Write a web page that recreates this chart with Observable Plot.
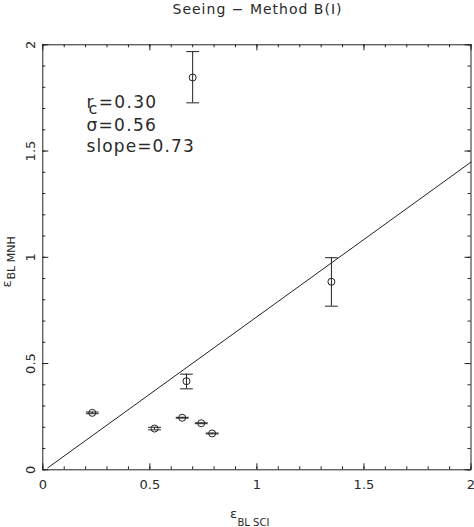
<!DOCTYPE html>
<html><head><meta charset="utf-8">
<script src="https://cdn.jsdelivr.net/npm/d3@7"></script>
<script src="https://cdn.jsdelivr.net/npm/@observablehq/plot@0.6"></script>
<style>body{margin:0;background:#fff}</style>
</head><body><div id="chart"></div>
<script>
// data
const xSci  = [0.700, 1.348, 0.671, 0.231, 0.522, 0.651, 0.740, 0.791];
const yMnh  = [1.846, 0.885, 0.417, 0.268, 0.194, 0.245, 0.219, 0.171];
const yLow  = [1.727, 0.770, 0.381, 0.264, 0.188, 0.243, 0.217, 0.169];
const yHigh = [1.968, 0.998, 0.450, 0.272, 0.200, 0.247, 0.221, 0.173];
const fitX = [0.023, 2.0];
const fitY = [0.009, 1.448];
const majorTicks = [0, 0.5, 1, 1.5, 2];
const minorTicks = [0,0.1,0.2,0.3,0.4,0.5,0.6,0.7,0.8,0.9,1,1.1,1.2,1.3,1.4,1.5,1.6,1.7,1.8,1.9,2];
const tickLabels = ["0", "0.5", "1", "1.5", "2"];
const title = "Seeing \u2212 Method B(I)";
const statR = ["r", "c", "=0.30"];
const statSigma = "\u03c3=0.56";
const statSlope = "slope=0.73";
const xLabel = ["\u03b5", "BL SCI"];
const yLabel = ["\u03b5", "BL MNH"];

const pts = xSci.map((x, i) => ({x, y: yMnh[i], lo: yLow[i], hi: yHigh[i]}));
const fit = fitX.map((x, i) => ({x, y: fitY[i]}));
const ink = "#222";
const textInk = "#2a2a2a";
const font = "DejaVu Sans";
const cap = {draw(ctx) { ctx.moveTo(-6, 0); ctx.lineTo(6, 0); }};

const W = 474, H = 527, mL = 42.3, mR = 3.5, mT = 44.3, mB = 57.7;
const fw = W - mL - mR, fh = H - mT - mB;

function tickAxes(ticks, size) {
  const c = {stroke: ink, strokeWidth: 1};
  return [
    Plot.tickX(ticks, {x: d => d, insetTop: fh - size, ...c}),
    Plot.tickX(ticks, {x: d => d, insetBottom: fh - size, ...c}),
    Plot.tickY(ticks, {y: d => d, insetRight: fw - size, ...c}),
    Plot.tickY(ticks, {y: d => d, insetLeft: fw - size, ...c})
  ];
}

const txt = (s, o) => Plot.text([s], {textAnchor: "start", fill: textInk, ...o});

const chart = Plot.plot({
  width: W,
  height: H,
  marginLeft: mL,
  marginRight: mR,
  marginTop: mT,
  marginBottom: mB,
  style: {fontFamily: font, background: "#fff"},
  x: {domain: [0, 2], axis: null},
  y: {domain: [0, 2], axis: null},
  marks: [
    Plot.frame({stroke: ink, strokeWidth: 1}),
    ...tickAxes(minorTicks, 3),
    ...tickAxes(majorTicks, 6),
    Plot.line(fit, {x: "x", y: "y", stroke: ink, strokeWidth: 1}),
    Plot.ruleX(pts, {x: "x", y1: "lo", y2: "hi", stroke: ink, strokeWidth: 1}),
    Plot.vector(pts, {x: "x", y: "lo", length: 1, anchor: "start", shape: cap, stroke: ink, strokeWidth: 1}),
    Plot.vector(pts, {x: "x", y: "hi", length: 1, anchor: "start", shape: cap, stroke: ink, strokeWidth: 1}),
    Plot.dot(pts, {x: "x", y: "y", r: 3.5, stroke: ink, fill: "none", strokeWidth: 1}),
    // tick labels
    Plot.text(majorTicks, {x: d => d, text: (d, i) => tickLabels[i], frameAnchor: "bottom", dy: 14.7, lineAnchor: "middle", textAnchor: "middle", fontSize: 13, fill: textInk}),
    Plot.text(majorTicks, {y: d => d, text: (d, i) => tickLabels[i], frameAnchor: "left", dx: -12.3, rotate: -90, lineAnchor: "middle", textAnchor: "middle", fontSize: 13, fill: textInk}),
    // axis labels
    txt(xLabel[0], {frameAnchor: "bottom", dx: -23.4, dy: 44.5, textAnchor: "middle", lineAnchor: "middle", fontSize: 13}),
    txt(xLabel[1], {frameAnchor: "bottom", dx: -19.4, dy: 49.5, lineAnchor: "top", fontSize: 10}),
    txt(yLabel[0], {frameAnchor: "left", dx: -35.5, dy: 30.2, rotate: -90, lineAnchor: "middle", fontSize: 13}),
    txt(yLabel[1], {frameAnchor: "left", dx: -35.5, dy: 22.2, rotate: -90, lineAnchor: "top", fontSize: 11}),
    // title
    txt(title, {frameAnchor: "top", dx: 0.6, dy: -30.8, textAnchor: "middle", lineAnchor: "bottom", fontSize: 14}),
    // stats annotation
    txt(statR[0], {frameAnchor: "top-left", dx: 43.7, dy: 63.4, lineAnchor: "bottom", fontSize: 17}),
    txt(statR[1], {frameAnchor: "top-left", dx: 45.6, dy: 69.5, lineAnchor: "bottom", fontSize: 16}),
    txt(statR[2], {frameAnchor: "top-left", dx: 56.0, dy: 63.4, lineAnchor: "bottom", fontSize: 17}),
    txt(statSigma, {frameAnchor: "top-left", dx: 43.7, dy: 85.7, lineAnchor: "bottom", fontSize: 17}),
    txt(statSlope, {frameAnchor: "top-left", dx: 43.7, dy: 106.7, lineAnchor: "bottom", fontSize: 17})
  ]
});

const svg = d3.select(chart);
const spaced = new Map([[statR[2], "1.3px"], [statSigma, "1.3px"], [statSlope, "1.1px"], [title, "1px"]]);
svg.selectAll("text").each(function() {
  const s = spaced.get(this.textContent);
  if (s) this.style.letterSpacing = s;
});
document.getElementById("chart").appendChild(chart);
</script>
</body></html>
